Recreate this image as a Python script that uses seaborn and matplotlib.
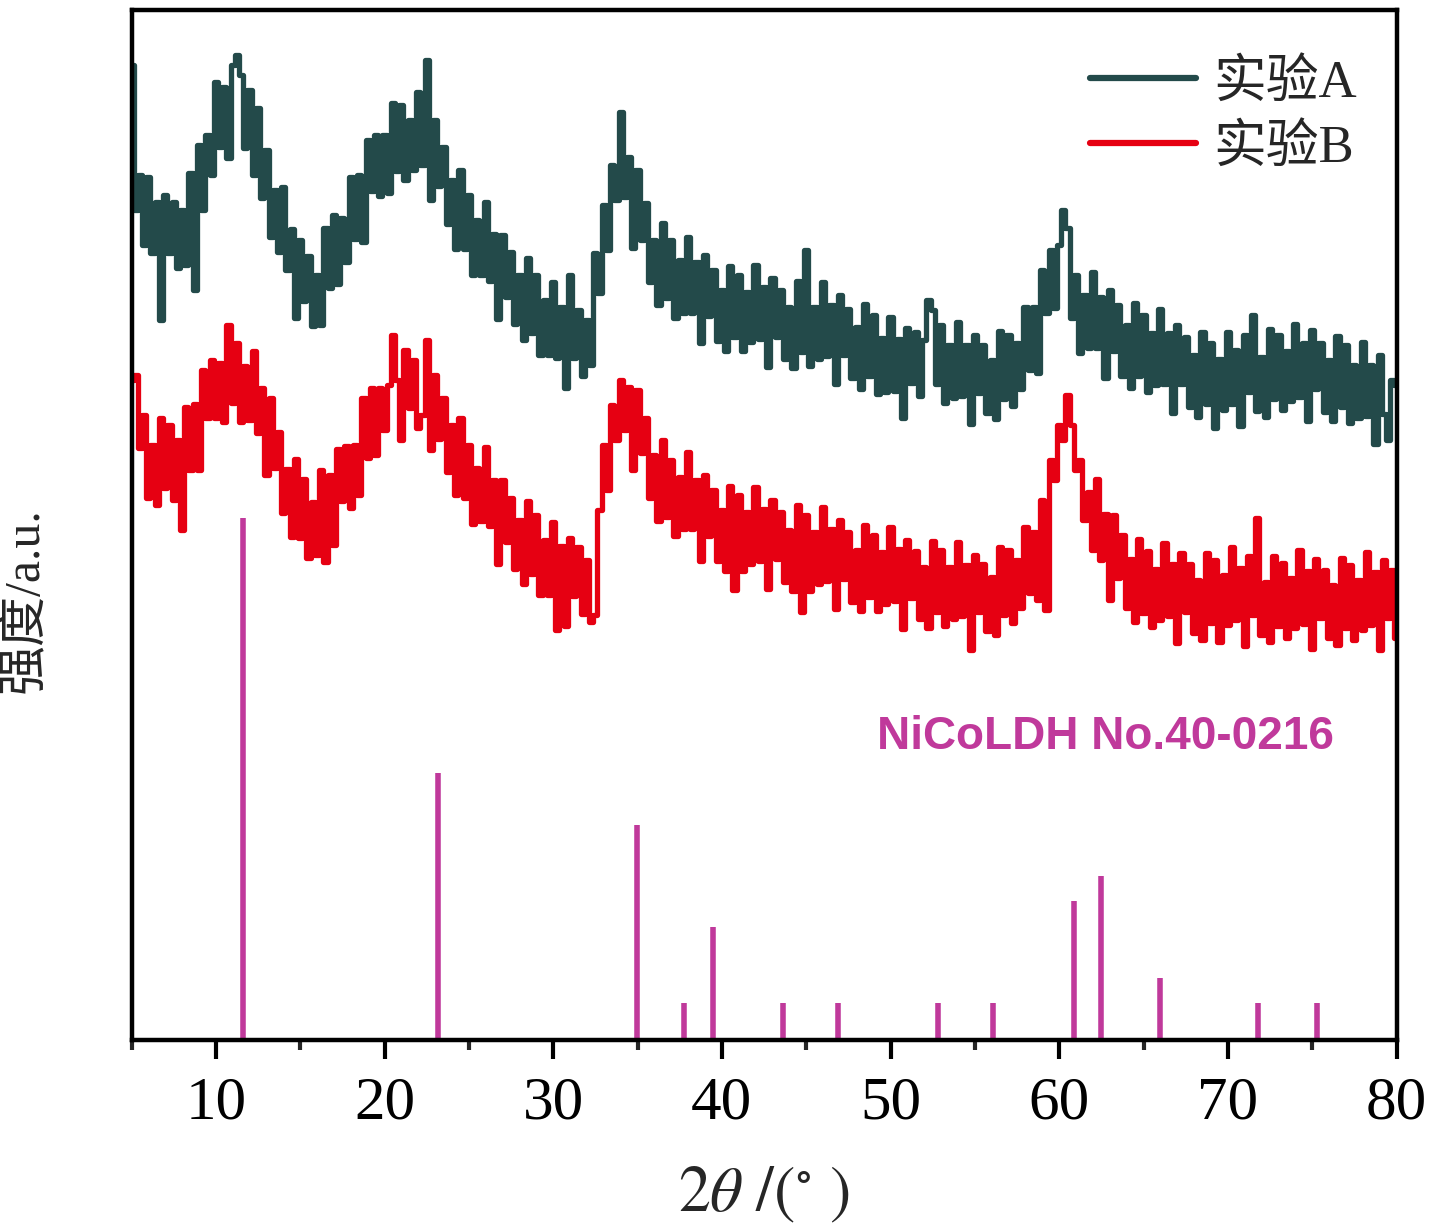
import numpy as np
import pandas as pd
import matplotlib
matplotlib.use("Agg")
import matplotlib.pyplot as plt
from matplotlib.ticker import MultipleLocator
import seaborn as sns

# ---------------- data (intensity in arbitrary units) ----------------
two_theta = np.round(np.arange(5.0, 80.001, 0.25), 2)

exp_a = [
    975, 830, 865, 795, 863, 787, 838, 720, 845, 787, 838, 772, 830, 775, 867, 750,   # 5-8.75
    895, 830, 905, 865, 958, 893, 953, 882, 975, 985, 965, 892, 950, 865, 932, 842,   # 9-12.75
    890, 803, 850, 788, 853, 770, 811, 722, 800, 739, 784, 714, 765, 715, 812, 752,   # 13-16.75
    825, 756, 822, 778, 863, 801, 865, 798, 900, 849, 905, 844, 905, 847, 937, 869,   # 17-20.75
    935, 860, 920, 870, 948, 875, 980, 840, 920, 854, 893, 816, 860, 791, 870, 791,   # 21-24.75
    845, 765, 820, 765, 838, 759, 806, 721, 805, 743, 788, 716, 765, 700, 782, 707,   # 25-28.75
    765, 685, 740, 685, 758, 682, 733, 652, 765, 682, 730, 664, 720, 675, 787, 747,   # 29-32.75
    835, 790, 875, 840, 928, 843, 883, 792, 870, 800, 837, 758, 800, 735, 817, 742,   # 33-36.75
    800, 722, 780, 727, 803, 727, 778, 697, 785, 724, 770, 699, 750, 689, 774, 703,   # 37-40.75
    765, 689, 748, 698, 775, 701, 753, 673, 762, 703, 750, 681, 733, 672, 759, 688,   # 41-44.75
    790, 674, 733, 681, 758, 684, 735, 656, 745, 685, 731, 662, 713, 651, 736, 664,   # 45-48.75
    725, 646, 702, 648, 723, 649, 701, 622, 712, 657, 708, 644, 700, 740, 730, 656,   # 49-52.75
    715, 637, 695, 642, 718, 644, 695, 616, 705, 647, 695, 627, 680, 621, 709, 641,   # 53-56.75
    705, 634, 697, 651, 733, 670, 733, 667, 770, 727, 790, 732, 795, 830, 812, 722,   # 57-60.75
    765, 687, 745, 692, 768, 692, 743, 662, 750, 689, 735, 664, 715, 652, 737, 664,   # 61-64.75
    725, 648, 707, 655, 731, 656, 707, 627, 715, 656, 703, 633, 685, 623, 708, 636,   # 65-68.75
    697, 612, 681, 630, 708, 636, 690, 614, 705, 648, 725, 629, 683, 623, 711, 641,   # 69-72.75
    705, 630, 689, 639, 716, 643, 697, 619, 710, 651, 697, 628, 680, 619, 704, 633,   # 73-76.75
    695, 617, 675, 622, 698, 624, 675, 596, 685, 626, 600, 660, 655,                  # 77-80
]

exp_b = [
    660, 665, 592, 625, 542, 595, 535, 622, 552, 615, 540, 600, 510, 633, 570, 636,   # 5-8.75
    570, 670, 622, 680, 622, 677, 618, 715, 637, 697, 618, 674, 620, 689, 607, 652,   # 9-12.75
    565, 642, 572, 608, 527, 571, 503, 581, 502, 561, 482, 538, 485, 570, 478, 565,   # 13-16.75
    495, 591, 539, 594, 532, 595, 545, 642, 582, 652, 585, 652, 610, 655, 705, 660,   # 17-20.75
    600, 690, 632, 680, 612, 625, 700, 590, 665, 601, 642, 568, 615, 545, 622, 542,   # 21-24.75
    595, 516, 572, 519, 593, 514, 560, 476, 560, 498, 542, 471, 520, 456, 539, 466,   # 25-28.75
    525, 445, 500, 445, 518, 410, 494, 414, 502, 444, 493, 426, 480, 418, 425, 530,   # 29-32.75
    595, 550, 635, 600, 660, 610, 653, 570, 650, 587, 622, 542, 585, 519, 600, 523,   # 33-36.75
    580, 504, 563, 511, 588, 511, 560, 479, 565, 504, 550, 479, 530, 469, 554, 450,   # 37-40.75
    545, 469, 528, 476, 553, 479, 531, 451, 540, 481, 528, 458, 510, 449, 535, 428,   # 41-44.75
    525, 449, 508, 456, 533, 459, 511, 431, 520, 461, 508, 438, 490, 429, 515, 443,   # 45-48.75
    505, 429, 488, 436, 513, 439, 491, 411, 500, 442, 489, 421, 473, 412, 499, 428,   # 49-52.75
    490, 414, 473, 421, 498, 424, 475, 390, 485, 428, 476, 409, 463, 405, 493, 425,   # 53-56.75
    490, 417, 480, 432, 513, 447, 508, 440, 540, 430, 580, 560, 615, 600, 645, 615,   # 57-60.75
    570, 580, 520, 548, 490, 561, 480, 526, 440, 525, 462, 505, 432, 481, 418, 501,   # 61-64.75
    427, 489, 413, 471, 420, 497, 424, 476, 397, 487, 428, 476, 407, 460, 400, 487,   # 65-68.75
    417, 480, 398, 465, 415, 493, 420, 472, 394, 484, 425, 522, 405, 458, 398, 484,   # 69-72.75
    414, 477, 402, 462, 412, 490, 416, 469, 391, 481, 422, 470, 402, 455, 395, 482,   # 73-76.75
    412, 475, 400, 460, 410, 488, 415, 468, 390, 480, 422, 470, 402,                  # 77-80
]

series_labels = ["实验A", "实验B"]
series_colors = ["#234a4a", "#e60012"]

stick_pos = [11.62, 23.15, 34.98, 37.77, 39.5, 43.6, 46.9, 52.8, 56.1, 60.9, 62.5, 66.0, 71.8, 75.3]
stick_h = [522, 267, 215, 37, 113, 37, 37, 37, 37, 139, 164, 62, 37, 37]
stick_label = "NiCoLDH No.40-0216"
stick_color = "#c0399b"

x_ticks = [10, 20, 30, 40, 50, 60, 70, 80]
x_label = r"$2\theta\ /(^{\circ}\ )$"
y_label = "强度/a.u."

# ---------------- figure ----------------
sns.set_theme(style="white")
plt.rcParams["font.family"] = ["Liberation Serif", "Noto Sans CJK SC", "DejaVu Sans"]
plt.rcParams["mathtext.fontset"] = "stix"

df = pd.DataFrame({
    "two_theta": np.concatenate([two_theta, two_theta]),
    "intensity": np.concatenate([exp_a, exp_b]),
    "sample": [series_labels[0]] * len(two_theta) + [series_labels[1]] * len(two_theta),
})

fig = plt.figure(figsize=(14.4, 12.25), dpi=100)
ax = fig.add_axes([131.5 / 1440, 1 - 1040 / 1225, 1265 / 1440, 1030 / 1225])

sns.lineplot(data=df, x="two_theta", y="intensity", hue="sample",
             palette=dict(zip(series_labels, series_colors)), estimator=None,
             sort=False, linewidth=3.8, drawstyle="steps-mid", ax=ax, legend=False)

ax.vlines(stick_pos, 0, stick_h, color=stick_color, linewidth=4.0)
ax.text(49.2, 303, stick_label, color=stick_color, fontsize=33, fontweight="bold",
        family=["Liberation Sans", "DejaVu Sans"], ha="left", va="center")

ax.set_xlim(5, 80)
ax.set_ylim(0, 1030)
ax.set_xticks(x_ticks)
ax.xaxis.set_minor_locator(MultipleLocator(5))
ax.set_yticks([])
ax.tick_params(axis="x", which="major", direction="out", length=14, width=3,
               labelsize=44, pad=12, bottom=True, colors="black")
ax.tick_params(axis="x", which="minor", direction="out", length=7, width=3, bottom=True)
for s in ax.spines.values():
    s.set_linewidth(3.2)
    s.set_color("black")

ax.set_xlabel(x_label, fontsize=46, labelpad=24)
ax.set_ylabel(y_label, fontsize=36)
ax.yaxis.set_label_coords(-0.066, 0.427)

handles = [plt.Line2D([], [], color=c, linewidth=4.5) for c in series_colors]
ax.legend(handles, series_labels, loc="upper right", bbox_to_anchor=(0.985, 0.973),
          frameon=False, fontsize=38, handlelength=2.0, handletextpad=0.32,
          labelspacing=0.3, borderaxespad=0.0)

fig.savefig("out.png", dpi=100)
